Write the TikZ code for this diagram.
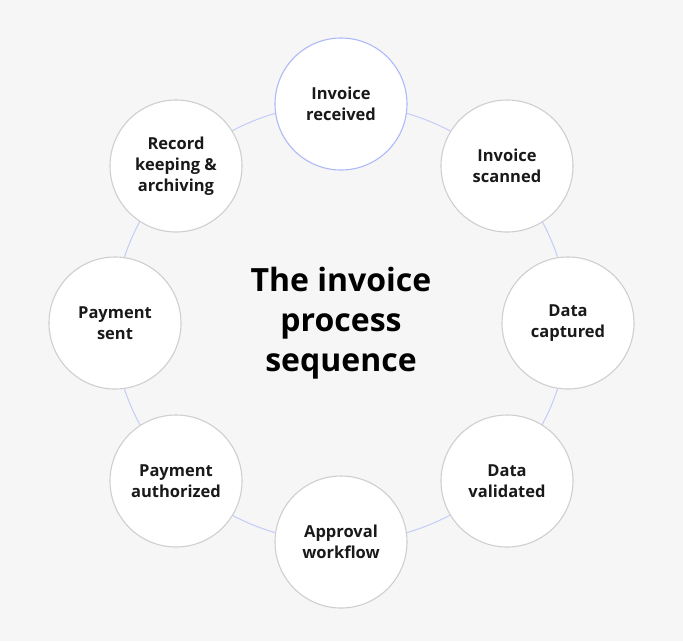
\documentclass[tikz,border=0pt]{standalone}
\usepackage{fontspec}
\setmainfont{Open Sans}
\definecolor{bg}{HTML}{F6F6F6}
\definecolor{ring}{HTML}{C4CCF8}
\definecolor{edge}{HTML}{CFCFCF}
\definecolor{blueedge}{HTML}{AEB9F8}
\begin{document}
\begin{tikzpicture}[x=1pt,y=-1pt,
  stepnode/.style={circle,draw=edge,line width=1.1pt,fill=white,minimum size=132pt,inner sep=0pt,align=center,font=\fontsize{16.5}{21}\selectfont\bfseries,text=black!90}]
\fill[bg] (0,0) rectangle (683,641);
\useasboundingbox (0,0) rectangle (683,641);
\coordinate (c) at (341,323);
\draw[ring,line width=1pt] (c) ellipse [x radius=227, y radius=219];
\node[stepnode,draw=blueedge] (n1) at (341,104) {Invoice\\received};
\node[stepnode] (n2) at (507,166) {Invoice\\scanned};
\node[stepnode] (n3) at (568,323) {Data\\captured};
\node[stepnode] (n4) at (507,481) {Data\\validated};
\node[stepnode] (n5) at (341,542) {Approval\\workflow};
\node[stepnode] (n6) at (176,481) {Payment\\authorized};
\node[stepnode] (n7) at (115,323) {Payment\\sent};
\node[stepnode] (n8) at (176,166) {Record\\keeping \&\\archiving};
\node[align=center,font=\fontsize{32}{40}\selectfont\bfseries] (t) at (c) {The invoice\\process\\sequence};
\end{tikzpicture}
\end{document}
